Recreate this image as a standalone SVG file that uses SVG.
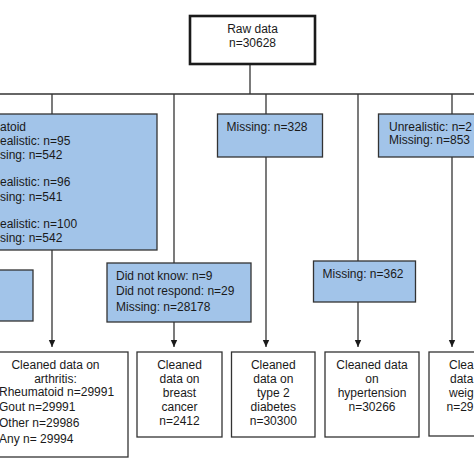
<svg xmlns="http://www.w3.org/2000/svg" width="474" height="474" viewBox="0 0 474 474">
<defs>
<style>
.box{fill:#ffffff;stroke:#333333;stroke-width:1.3}
.raw{fill:#ffffff;stroke:#1a1a1a;stroke-width:2.6}
.blue{fill:#a2c4e9;stroke:#333333;stroke-width:1.3}
.ln{fill:none;stroke:#333333;stroke-width:1.3}
text{font-family:"Liberation Sans",Arial,Helvetica,sans-serif;font-size:12px;fill:#1a1a1a}
.c{text-anchor:middle}
</style>
<marker id="arr" markerUnits="userSpaceOnUse" markerWidth="8" markerHeight="8" refX="7" refY="4" orient="auto">
<path d="M0,0.8 L7,4 L0,7.2 Z" fill="#1a1a1a"/>
</marker>
</defs>
<rect width="474" height="474" fill="#ffffff"/>

<g id="connectors">
<path class="ln" d="M250 64 V94"/>
<path class="ln" d="M0 94 H474"/>
<path class="ln" d="M52 94 V114"/>
<path class="ln" d="M52 250 V347" marker-end="url(#arr)"/>
<path class="ln" d="M174 94 V263"/>
<path class="ln" d="M174 322 V347" marker-end="url(#arr)"/>
<path class="ln" d="M266 94 V114"/>
<path class="ln" d="M266 157 V347" marker-end="url(#arr)"/>
<path class="ln" d="M358 94 V261"/>
<path class="ln" d="M358 302 V347" marker-end="url(#arr)"/>
<path class="ln" d="M452 94 V114"/>
<path class="ln" d="M452 157 V347" marker-end="url(#arr)"/>
</g>

<g id="raw">
<rect class="raw" x="190" y="16" width="125" height="48"/>
<text class="c" x="252.5" y="32.5">Raw data</text>
<text class="c" x="252.5" y="47">n=30628</text>
</g>

<g id="arthritis-exclusions">
<rect class="blue" x="-5" y="114" width="162" height="136"/>
<text x="0" y="131">atoid</text>
<text x="0" y="145">ealistic: n=95</text>
<text x="0" y="158.5">sing: n=542</text>
<text x="0" y="186">ealistic: n=96</text>
<text x="0" y="200.5">sing: n=541</text>
<text x="0" y="228">ealistic: n=100</text>
<text x="0" y="241.5">sing: n=542</text>
</g>

<g id="left-small">
<rect class="blue" x="-5" y="270" width="38" height="51"/>
</g>

<g id="cancer-exclusions">
<rect class="blue" x="107" y="263" width="144" height="59"/>
<text x="116" y="279.5">Did not know: n=9</text>
<text x="116" y="295">Did not respond: n=29</text>
<text x="116" y="311">Missing: n=28178</text>
</g>

<g id="diabetes-exclusions">
<rect class="blue" x="217.5" y="114" width="105" height="43"/>
<text x="226.5" y="131">Missing: n=328</text>
</g>

<g id="hypertension-exclusions">
<rect class="blue" x="313.5" y="261" width="102" height="41"/>
<text x="322.5" y="277.5">Missing: n=362</text>
</g>

<g id="weight-exclusions">
<rect class="blue" x="378.5" y="114" width="100" height="43"/>
<text x="389" y="130.5">Unrealistic: n=2</text>
<text x="389" y="143.5">Missing: n=853</text>
</g>

<g id="arthritis">
<rect class="box" x="-5" y="352" width="133" height="105"/>
<text class="c" x="55.5" y="368.5">Cleaned data on</text>
<text class="c" x="55.5" y="382.5">arthritis:</text>
<text x="-1" y="396">Rheumatoid n=29991</text>
<text x="-1" y="411">Gout n=29991</text>
<text x="-1" y="427">Other n=29986</text>
<text x="-1" y="443">Any n= 29994</text>
</g>

<g id="breast-cancer">
<rect class="box" x="137" y="352" width="85" height="85"/>
<text class="c" x="179.5" y="368.5">Cleaned</text>
<text class="c" x="179.5" y="382.5">data on</text>
<text class="c" x="179.5" y="396.5">breast</text>
<text class="c" x="179.5" y="410.5">cancer</text>
<text class="c" x="179.5" y="424.5">n=2412</text>
</g>

<g id="diabetes">
<rect class="box" x="231.5" y="352" width="83.5" height="85"/>
<text class="c" x="273.3" y="368.5">Cleaned</text>
<text class="c" x="273.3" y="382.5">data on</text>
<text class="c" x="273.3" y="396.5">type 2</text>
<text class="c" x="273.3" y="410.5">diabetes</text>
<text class="c" x="273.3" y="424.5">n=30300</text>
</g>

<g id="hypertension">
<rect class="box" x="325" y="352" width="94" height="85"/>
<text class="c" x="372" y="368.5">Cleaned data</text>
<text class="c" x="372" y="382.5">on</text>
<text class="c" x="372" y="396.5">hypertension</text>
<text class="c" x="372" y="410.5">n=30266</text>
</g>

<g id="weight">
<rect class="box" x="429" y="352" width="60" height="84"/>
<text x="449" y="368.5">Clea</text>
<text x="450" y="382.5">data</text>
<text x="449" y="396.5">weig</text>
<text x="446.5" y="410.5">n=29</text>
</g>
</svg>
